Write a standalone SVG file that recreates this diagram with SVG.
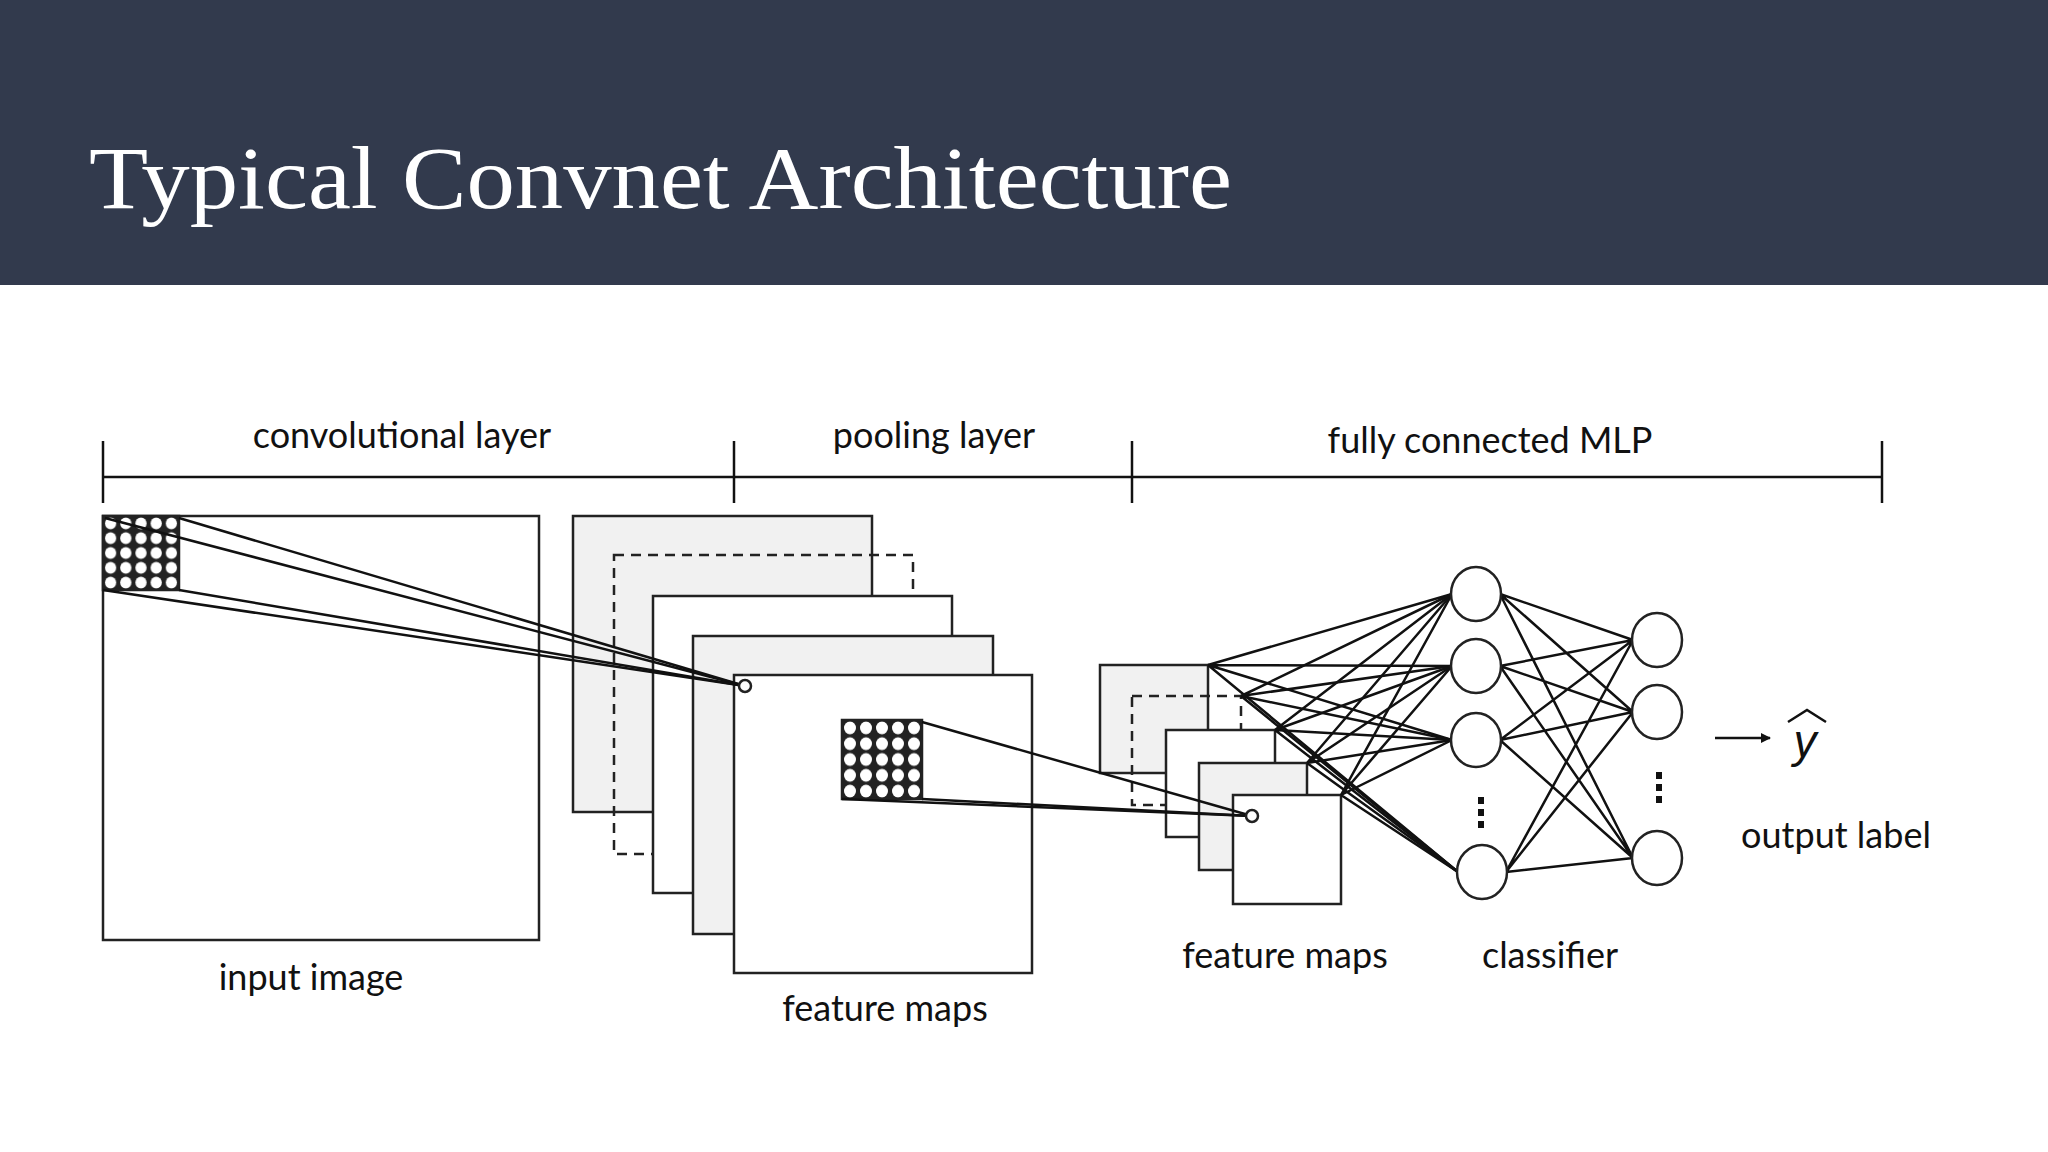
<svg xmlns="http://www.w3.org/2000/svg" width="2048" height="1152" viewBox="0 0 2048 1152">
<style>
.lbl{font-family:Lato,"Open Sans",sans-serif;font-size:36px;fill:#111;text-anchor:middle}
.box{stroke:#222;stroke-width:2.5}
.g{fill:#f1f1f1}.w{fill:#fff}
.ln{stroke:#111;stroke-width:2.5;fill:none}
.nd{fill:#fff;stroke:#222;stroke-width:2.5}
</style>
<defs>
<pattern id="dots" width="15.2" height="14.8" patternUnits="userSpaceOnUse" x="103" y="516">
<rect width="15.2" height="14.8" fill="#222"/><ellipse cx="7.6" cy="7.4" rx="5.6" ry="6" fill="#fff"/>
</pattern>
<pattern id="dots2" width="16" height="15.8" patternUnits="userSpaceOnUse" x="842" y="720">
<rect width="16" height="15.8" fill="#222"/><ellipse cx="8" cy="7.9" rx="6" ry="6.4" fill="#fff"/>
</pattern>
<marker id="ah" markerWidth="10" markerHeight="10" refX="9" refY="5" orient="auto" markerUnits="userSpaceOnUse"><path d="M0,0 L10,5 L0,10 z" fill="#111"/></marker>
</defs>
<rect width="2048" height="1152" fill="#fff"/>
<g id="header"><rect width="2048" height="285" fill="#323a4d"/>
<text x="89" y="208" font-family="'Liberation Serif',serif" font-size="88" fill="#fff" textLength="1143" lengthAdjust="spacingAndGlyphs">Typical Convnet Architecture</text></g>
<g id="scale">
<line class="ln" x1="103" y1="477" x2="1882" y2="477"/>
<line class="ln" x1="103" y1="441" x2="103" y2="503"/>
<line class="ln" x1="734" y1="441" x2="734" y2="503"/>
<line class="ln" x1="1132" y1="441" x2="1132" y2="503"/>
<line class="ln" x1="1882" y1="441" x2="1882" y2="503"/>
<text class="lbl" x="402" y="448" font-size="39">convolutional layer</text>
<text class="lbl" x="934" y="448" font-size="39">pooling layer</text>
<text class="lbl" x="1490" y="453" font-size="39">fully connected MLP</text>
</g>
<g id="input"><rect class="box w" x="103" y="516" width="436" height="424"/>
<rect x="103" y="516" width="76" height="74" fill="url(#dots)" stroke="#222" stroke-width="2.5"/>
<text class="lbl" x="311" y="990">input image</text></g>
<g id="conv-maps">
<rect class="box g" x="573" y="516" width="299" height="296"/>
<rect x="614" y="555" width="299" height="299" fill="none" stroke="#222" stroke-width="2.5" stroke-dasharray="10,7"/>
<rect class="box w" x="653" y="596" width="299" height="297"/>
<rect class="box g" x="693" y="636" width="300" height="298"/>
<rect class="box w" x="734" y="675" width="298" height="298"/>
<rect x="842" y="720" width="80" height="79" fill="url(#dots2)" stroke="#222" stroke-width="2.5"/>
<text class="lbl" x="885" y="1021">feature maps</text></g>
<g id="pool-maps">
<rect class="box g" x="1100" y="665" width="108" height="108"/>
<rect x="1132" y="696" width="109" height="109" fill="none" stroke="#222" stroke-width="2.5" stroke-dasharray="10,7"/>
<rect class="box w" x="1166" y="730" width="109" height="107"/>
<rect class="box g" x="1199" y="763" width="108" height="107"/>
<rect class="box w" x="1233" y="795" width="108" height="109"/>
<text class="lbl" x="1285" y="968">feature maps</text></g>
<g id="connectors">
<g class="ln">
<line x1="105" y1="518" x2="745" y2="686"/><line x1="179" y1="518" x2="745" y2="686"/>
<line x1="179" y1="590" x2="745" y2="686"/><line x1="103" y1="590" x2="745" y2="686"/>
<line x1="922" y1="722" x2="1252" y2="816"/><line x1="922" y1="799" x2="1252" y2="816"/>
<line x1="842" y1="799" x2="1252" y2="816"/>
</g>
<g class="ln" stroke-width="2.2">
<path d="M1208,665L1452,594M1208,665L1452,666M1208,665L1452,740M1208,665L1458,872"/>
<path d="M1241,696L1452,594M1241,696L1452,666M1241,696L1452,740M1241,696L1458,872"/>
<path d="M1275,730L1452,594M1275,730L1452,666M1275,730L1452,740M1275,730L1458,872"/>
<path d="M1307,763L1452,594M1307,763L1452,666M1307,763L1452,740M1307,763L1458,872"/>
<path d="M1341,795L1452,594M1341,795L1452,666M1341,795L1452,740M1341,795L1458,872"/>
<path d="M1500,594L1633,640M1500,594L1633,712M1500,594L1633,858M1500,666L1633,640M1500,666L1633,712M1500,666L1633,858M1500,740L1633,640M1500,740L1633,712M1500,740L1633,858M1506,872L1633,640M1506,872L1633,712M1506,872L1633,858"/>
</g>
<line class="ln" x1="1715" y1="738" x2="1770" y2="738" stroke-width="3" marker-end="url(#ah)"/>
</g>
<g id="markers"><circle cx="745" cy="686" r="6" class="nd" stroke-width="2"/><circle cx="1252" cy="816" r="6" class="nd" stroke-width="2"/></g>
<g id="hidden">
<ellipse class="nd" cx="1476" cy="594" rx="25" ry="27"/>
<ellipse class="nd" cx="1476" cy="666" rx="25" ry="27"/>
<ellipse class="nd" cx="1476" cy="740" rx="25" ry="27"/>
<ellipse class="nd" cx="1482" cy="872" rx="25" ry="27"/>
<g fill="#111"><rect x="1478" y="797" width="6" height="7"/><rect x="1478" y="809" width="6" height="7"/><rect x="1478" y="821" width="6" height="7"/></g>
<text class="lbl" x="1550" y="968">classifier</text></g>
<g id="output">
<ellipse class="nd" cx="1657" cy="640" rx="25" ry="27"/>
<ellipse class="nd" cx="1657" cy="712" rx="25" ry="27"/>
<ellipse class="nd" cx="1657" cy="858" rx="25" ry="27"/>
<g fill="#111"><rect x="1656" y="772" width="6" height="7"/><rect x="1656" y="784" width="6" height="7"/><rect x="1656" y="796" width="6" height="7"/></g>
<text x="1805" y="757" font-family="'Liberation Sans',sans-serif" font-style="italic" font-size="46" fill="#111" text-anchor="middle">y</text>
<path d="M1788,722 L1807,710 L1826,722" fill="none" stroke="#111" stroke-width="2.5"/>
<text class="lbl" x="1836" y="848">output label</text></g>
</svg>
